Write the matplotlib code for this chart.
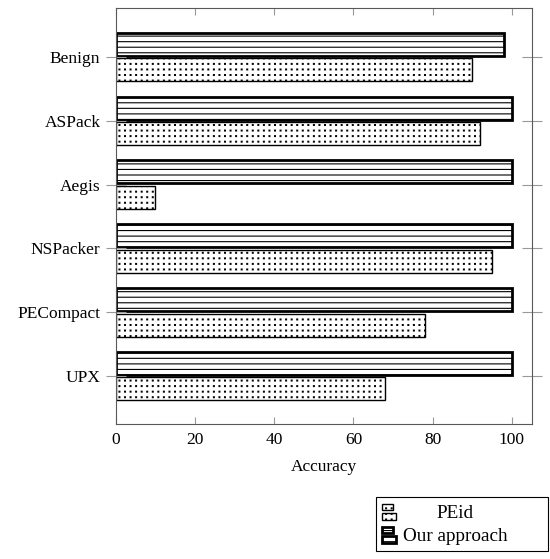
import matplotlib
matplotlib.use("Agg")
import matplotlib.pyplot as plt
import matplotlib.patches as mpatches
import matplotlib.hatch as mhatch
from matplotlib.path import Path
from matplotlib.legend_handler import HandlerBase
import numpy as np

categories = ["UPX", "PECompact", "NSPacker", "Aegis", "ASPack", "Benign"]
our_approach = [100, 100, 100, 100, 100, 98]
peid = [68, 78, 95, 10, 92, 90]
xticks = [0, 20, 40, 60, 80, 100]


# regular-grid dot hatch (pgfplots "dots" pattern) replacing the staggered '.'
class GridDots(mhatch.HatchPatternBase):
    def __init__(self, hatch, density):
        self.num_rows = int(hatch.count('.') * density)
        self.size = 0.08
        self.num_vertices = self.num_rows * self.num_rows * 5

    def set_vertices_and_codes(self, vertices, codes):
        n = self.num_rows
        step = 1.0 / n
        s = self.size * step
        sq = np.array([[-s, -s], [s, -s], [s, s], [-s, s], [-s, -s]])
        k = 0
        for i in range(n):
            for j in range(n):
                c = np.array([(j + 0.5) * step, (i + 0.5) * step])
                vertices[k:k + 5] = sq + c
                codes[k:k + 5] = [Path.MOVETO, Path.LINETO, Path.LINETO,
                                  Path.LINETO, Path.CLOSEPOLY]
                k += 5


mhatch._hatch_types = [GridDots if t is mhatch.SmallFilledCircles else t
                       for t in mhatch._hatch_types]

plt.rcParams['font.family'] = ['Liberation Serif', 'DejaVu Serif']
plt.rcParams['hatch.linewidth'] = 0.8
FS = 12.5

fig = plt.figure(figsize=(5.5, 5.59), dpi=100)
ax = fig.add_axes([0.2104, 0.2415, 0.9667 - 0.2104, 0.9848 - 0.2415])

y = np.arange(len(categories))
h = 0.36
b_our = ax.barh(y + 0.2, our_approach, height=h, color='white', edgecolor='black',
                linewidth=2.0, hatch='---', label='Our approach')
b_peid = ax.barh(y - 0.2, peid, height=h, color='white', edgecolor='black',
                 linewidth=1.0, hatch='...', label='PEid')

ax.set_xlim(0, 105)
ax.set_ylim(-0.75, 5.76)
ax.set_yticks(y)
ax.set_yticklabels(categories, fontsize=FS)
ax.set_xticks(xticks)
ax.set_xticklabels([str(v) for v in xticks], fontsize=FS)
ax.set_xlabel("Accuracy", fontsize=FS, labelpad=8)

ax.tick_params(axis='x', direction='in', top=True, bottom=True, length=5,
               color='0.6', width=0.8, pad=6)
ax.tick_params(axis='y', direction='inout', left=True, right=True, length=14,
               color='0.6', width=0.8, pad=4)
for s in ax.spines.values():
    s.set_color('0.35')
    s.set_linewidth(0.8)


class TwoBarHandler(HandlerBase):
    def create_artists(self, legend, orig_handle, xdescent, ydescent, width,
                       height, fontsize, trans):
        x0 = -xdescent
        y0 = -ydescent
        lw = orig_handle.get_linewidth()
        hatch = orig_handle.get_hatch()
        r1 = mpatches.Rectangle((x0, y0), width, height * 0.42, facecolor='white',
                                edgecolor='black', linewidth=lw, hatch=hatch,
                                transform=trans)
        r2 = mpatches.Rectangle((x0, y0 + height * 0.6), width * 0.82,
                                height * 0.34, facecolor='white',
                                edgecolor='black', linewidth=lw, hatch=hatch,
                                transform=trans)
        return [r1, r2]


leg = fig.legend(handles=[b_peid.patches[0], b_our.patches[0]],
                 labels=["PEid", "Our approach"],
                 handler_map={mpatches.Rectangle: TwoBarHandler()},
                 loc='upper left',
                 bbox_to_anchor=(376 / 550, 7 / 559, 172 / 550, 55 / 559),
                 bbox_transform=fig.transFigure, mode='expand', fontsize=13.8,
                 fancybox=False, framealpha=1, edgecolor='black',
                 handlelength=0.72, handleheight=1.0, handletextpad=0.37,
                 borderpad=0.3, labelspacing=0.2, borderaxespad=0)
leg.get_frame().set_linewidth(0.8)

# centre the shorter label over the longer one, as in the original legend
fig.canvas.draw()
renderer = fig.canvas.get_renderer()
t0, t1 = leg.get_texts()
w0 = t0.get_window_extent(renderer).width
w1 = t1.get_window_extent(renderer).width
try:
    rows = leg._legend_handle_box.get_children()[0].get_children()
    rows[0].sep += (w1 - w0) / 2 * 72.0 / fig.dpi
except Exception:
    pass

fig.savefig("out.png", dpi=100)
